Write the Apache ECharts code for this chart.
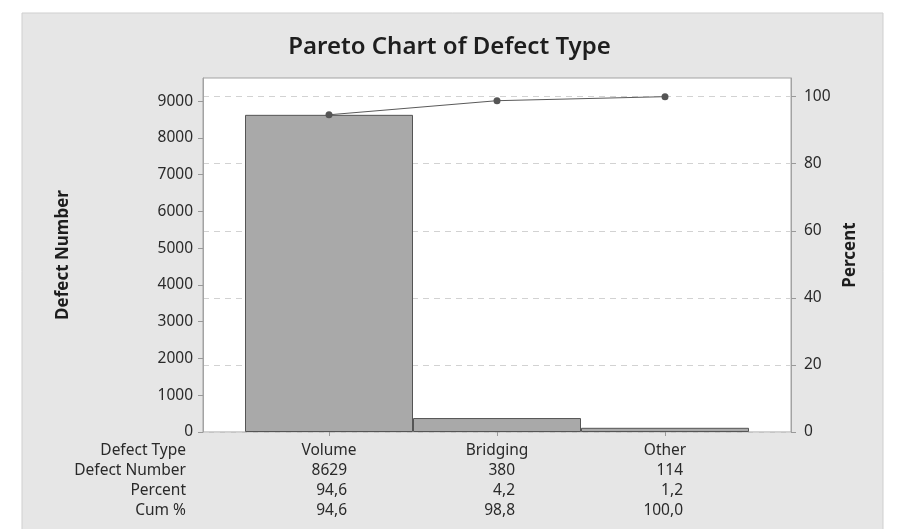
<!DOCTYPE html>
<html>
<head>
<meta charset="utf-8">
<script src="https://cdn.jsdelivr.net/npm/echarts@6/dist/echarts.min.js"></script>
<style>
html,body{margin:0;padding:0;background:#fff;}
#chart{width:899px;height:529px;}
</style>
</head>
<body>
<div id="chart"></div>
<script>
const categories = ['Volume', 'Bridging', 'Other'];
const defectCounts = [8629, 380, 114];
const percents = [94.6, 4.2, 1.2];
const cumPercents = [94.6, 98.8, 100.0];
const leftTicks = [0, 1000, 2000, 3000, 4000, 5000, 6000, 7000, 8000, 9000];
const rightTicks = [0, 20, 40, 60, 80, 100];
const rowLabels = ['Defect Type', 'Defect Number', 'Percent', 'Cum %'];

const FONT = '"Noto Sans", "Open Sans", sans-serif';
const total = defectCounts.reduce((a, b) => a + b, 0);
const headroom = 1.0557;
const positions = categories.map((c, i) => i);
const fmt = v => v.toFixed(1).replace('.', ',');
const TXT = '#2a2a2a';
const FS = 15.5;
const LH = 19.8;

const chart = echarts.init(document.getElementById('chart'));
chart.setOption({
  animation: false,
  backgroundColor: '#ffffff',
  textStyle: { fontFamily: FONT },
  graphic: [
    {
      type: 'rect', z: -10, silent: true,
      shape: { x: 22, y: 13, width: 861, height: 530 },
      style: { fill: '#e6e6e6', stroke: '#cfcfcf', lineWidth: 1 }
    },
    {
      type: 'text',
      x: 186, y: 441, z: 10,
      style: {
        text: rowLabels.join('\n'),
        align: 'right', verticalAlign: 'top',
        lineHeight: LH, fontSize: FS, fontFamily: FONT, fill: TXT
      }
    }
  ],
  title: {
    text: 'Pareto Chart of Defect Type',
    left: 'center', top: 30,
    textStyle: { fontSize: 24, fontWeight: 600, color: '#1e1e1e', fontFamily: FONT }
  },
  grid: {
    left: 203, right: 108, top: 78, bottom: 97,
    show: true, backgroundColor: '#ffffff', borderColor: '#a3a3a3', borderWidth: 1,
    containLabel: false
  },
  xAxis: {
    type: 'value', min: -0.75, max: 2.75,
    axisLine: { show: false },
    splitLine: { show: false },
    axisTick: { show: true, customValues: positions, length: 4, lineStyle: { color: '#999' } },
    axisLabel: {
      customValues: positions,
      margin: 9,
      align: 'center',
      color: TXT,
      fontSize: FS,
      fontFamily: FONT,
      formatter: v => {
        const i = Math.round(v);
        return '{n|' + categories[i] + '}\n{v|' + defectCounts[i] + '}\n{v|' + fmt(percents[i]) + '}\n{v|' + fmt(cumPercents[i]) + '}';
      },
      rich: {
        n: { width: 34, align: 'center', fontSize: FS, lineHeight: LH, color: TXT, fontFamily: FONT },
        v: { width: 36, align: 'right', fontSize: FS, lineHeight: LH, color: TXT, fontFamily: FONT }
      }
    }
  },
  yAxis: [
    {
      type: 'value', min: 0, max: total * headroom,
      name: 'Defect Number', nameLocation: 'middle', nameRotate: 90, nameGap: 131,
      nameTextStyle: { fontSize: 17, fontWeight: 'bold', color: '#1e1e1e', fontFamily: FONT },
      axisLine: { show: true, onZero: false, lineStyle: { color: '#a3a3a3' } },
      axisTick: { show: true, customValues: leftTicks, length: 5, lineStyle: { color: '#999' } },
      axisLabel: { customValues: leftTicks, margin: 10, fontSize: FS, color: TXT, fontFamily: FONT, formatter: v => String(v) },
      splitLine: { show: false }
    },
    {
      type: 'value', min: 0, max: 100 * headroom,
      name: 'Percent', nameLocation: 'middle', nameRotate: 90, nameGap: 40,
      nameTextStyle: { fontSize: 17, fontWeight: 'bold', color: '#1e1e1e', fontFamily: FONT },
      axisLine: { show: true, onZero: false, lineStyle: { color: '#a3a3a3' } },
      axisTick: { show: true, customValues: rightTicks, length: 5, lineStyle: { color: '#999' } },
      axisLabel: { customValues: rightTicks, margin: 13, fontSize: FS, color: TXT, fontFamily: FONT, formatter: v => String(v) },
      splitLine: { show: true, lineStyle: { color: '#d2d2d2', type: [6, 5], width: 1 } }
    }
  ],
  series: [
    {
      type: 'bar', xAxisIndex: 0, yAxisIndex: 0,
      barWidth: '100%',
      data: positions.map(i => [i, defectCounts[i]]),
      itemStyle: { color: '#a9a9a9', borderColor: '#555555', borderWidth: 1 },
      silent: true
    },
    {
      type: 'line', xAxisIndex: 0, yAxisIndex: 1,
      data: positions.map(i => [i, cumPercents[i]]),
      symbol: 'circle', symbolSize: 7,
      lineStyle: { color: '#5a5a5a', width: 1 },
      itemStyle: { color: '#555555' },
      z: 5, silent: true
    }
  ]
});
</script>
</body>
</html>
